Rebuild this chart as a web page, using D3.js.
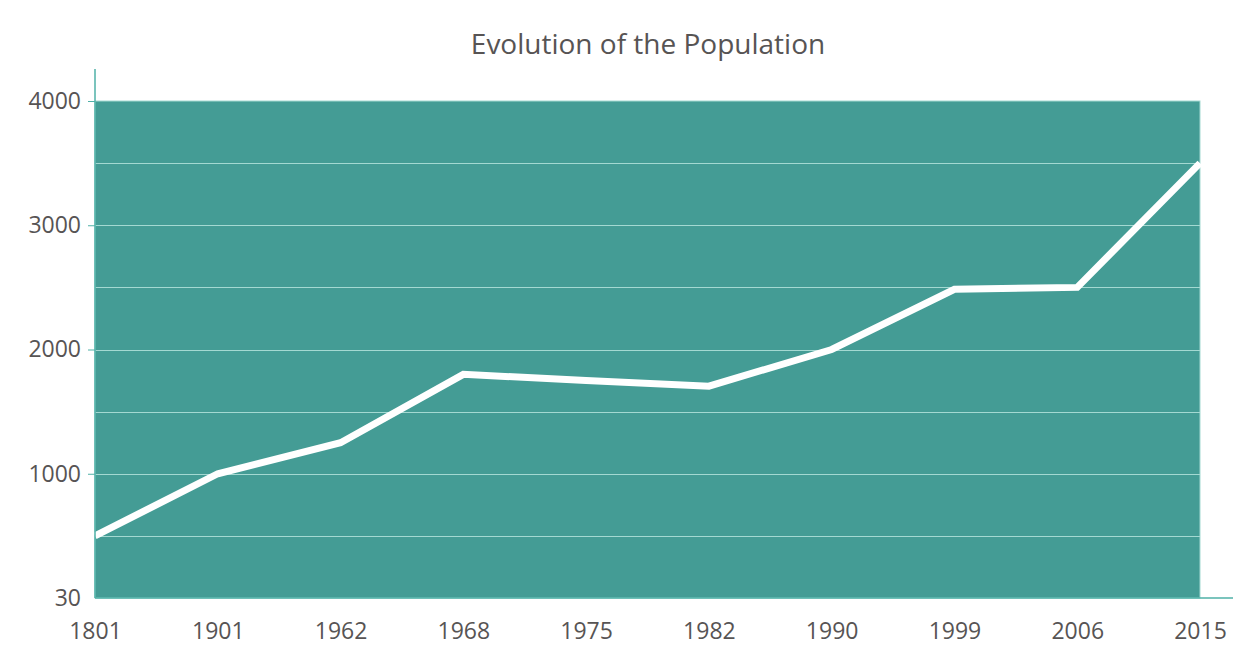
<!DOCTYPE html>
<html lang="en">
<head>
    <meta charset="UTF-8">
    <title>Evolution of the Population</title>
    <script src="https://d3js.org/d3.v7.min.js"></script>
    <style>
        body {
            margin: 0;
            background: #ffffff;
            font-family: "Open Sans", sans-serif;
        }
    </style>
</head>
<body>
    <main></main>
<script>

    // data
    var years = ['1801', '1901', '1962', '1968', '1975', '1982', '1990', '1999', '2006', '2015'];
    var population = [500, 1000, 1250, 1800, 1750, 1705, 2000, 2485, 2500, 3500];
    var yTickValues = [0, 1000, 2000, 3000, 4000];
    var yTickLabels = ['30', '1000', '2000', '3000', '4000'];
    var gridValues = [500, 1000, 1500, 2000, 2500, 3000, 3500];

    var w = 1258, h = 660;
    var m = {top: 101, left: 95, bottom: 62, right: 58};

    var x = d3.scalePoint()
              .domain(years)
              .range([m.left, w - m.right])
              .padding(0);

    var y = d3.scaleLinear()
              .domain([0, 4000])
              .range([h - m.bottom, m.top]);

    var svg = d3.select('main')
                .append('svg')
                .attr('width', w)
                .attr('height', h);

    var textColor = '#575454';
    var axisColor = '#4fb0a7';
    var gridColor = '#a4d9d2';
    var font = '"Open Sans", sans-serif';

    //title
    svg.append('text')
        .attr('x', 648)
        .attr('y', 54)
        .attr('text-anchor', 'middle')
        .style('font-family', font)
        .style('font-size', '28px')
        .style('fill', textColor)
        .text('Evolution of the Population');

    //filled plot area
    svg.append('rect')
        .attr('x', m.left)
        .attr('y', y(4000))
        .attr('width', x(years[years.length - 1]) - m.left)
        .attr('height', y(0) - y(4000))
        .style('fill', '#449c95')
        .style('stroke', gridColor)
        .style('stroke-width', 1);

    //gridlines
    svg.append('g')
        .selectAll('line')
        .data(gridValues)
        .enter()
        .append('line')
        .attr('x1', m.left)
        .attr('x2', x(years[years.length - 1]))
        .attr('y1', function(d){ return Math.round(y(d)) + 0.5; })
        .attr('y2', function(d){ return Math.round(y(d)) + 0.5; })
        .style('stroke', gridColor)
        .style('stroke-width', 1);

    //line
    var line = d3.line()
                 .x(function(d, i){ return x(years[i]); })
                 .y(function(d){ return y(d); });

    svg.append('path')
        .datum(population)
        .attr('d', line)
        .style('fill', 'none')
        .style('stroke', '#ffffff')
        .style('stroke-width', 7)
        .style('stroke-linejoin', 'miter');

    //y axis
    var yAxis = d3.axisLeft(y)
                  .tickValues(yTickValues)
                  .tickFormat(function(d, i){ return yTickLabels[i]; })
                  .tickSize(7)
                  .tickPadding(7);

    var gy = svg.append('g')
        .attr('transform', 'translate(' + m.left + ',0)')
        .call(yAxis);
    gy.select('.domain').remove();
    gy.selectAll('.tick line')
        .style('stroke', axisColor)
        .filter(function(d){ return d === 0; })
        .remove();
    gy.selectAll('.tick text')
        .style('font-family', font)
        .style('font-size', '23px')
        .style('fill', textColor);
    gy.append('line')
        .attr('x1', 0).attr('x2', 0)
        .attr('y1', 69).attr('y2', y(0))
        .style('stroke', axisColor)
        .style('stroke-width', 1.5);

    //x axis
    var xAxis = d3.axisBottom(x)
                  .tickSize(0)
                  .tickPadding(25);

    var gx = svg.append('g')
        .attr('transform', 'translate(0,' + y(0) + ')')
        .call(xAxis);
    gx.select('.domain').remove();
    gx.selectAll('.tick text')
        .style('font-family', font)
        .style('font-size', '23px')
        .style('fill', textColor);
    gx.append('line')
        .attr('x1', m.left).attr('x2', 1233)
        .attr('y1', 0).attr('y2', 0)
        .style('stroke', axisColor)
        .style('stroke-width', 1.5);

</script>
</body>
</html>
